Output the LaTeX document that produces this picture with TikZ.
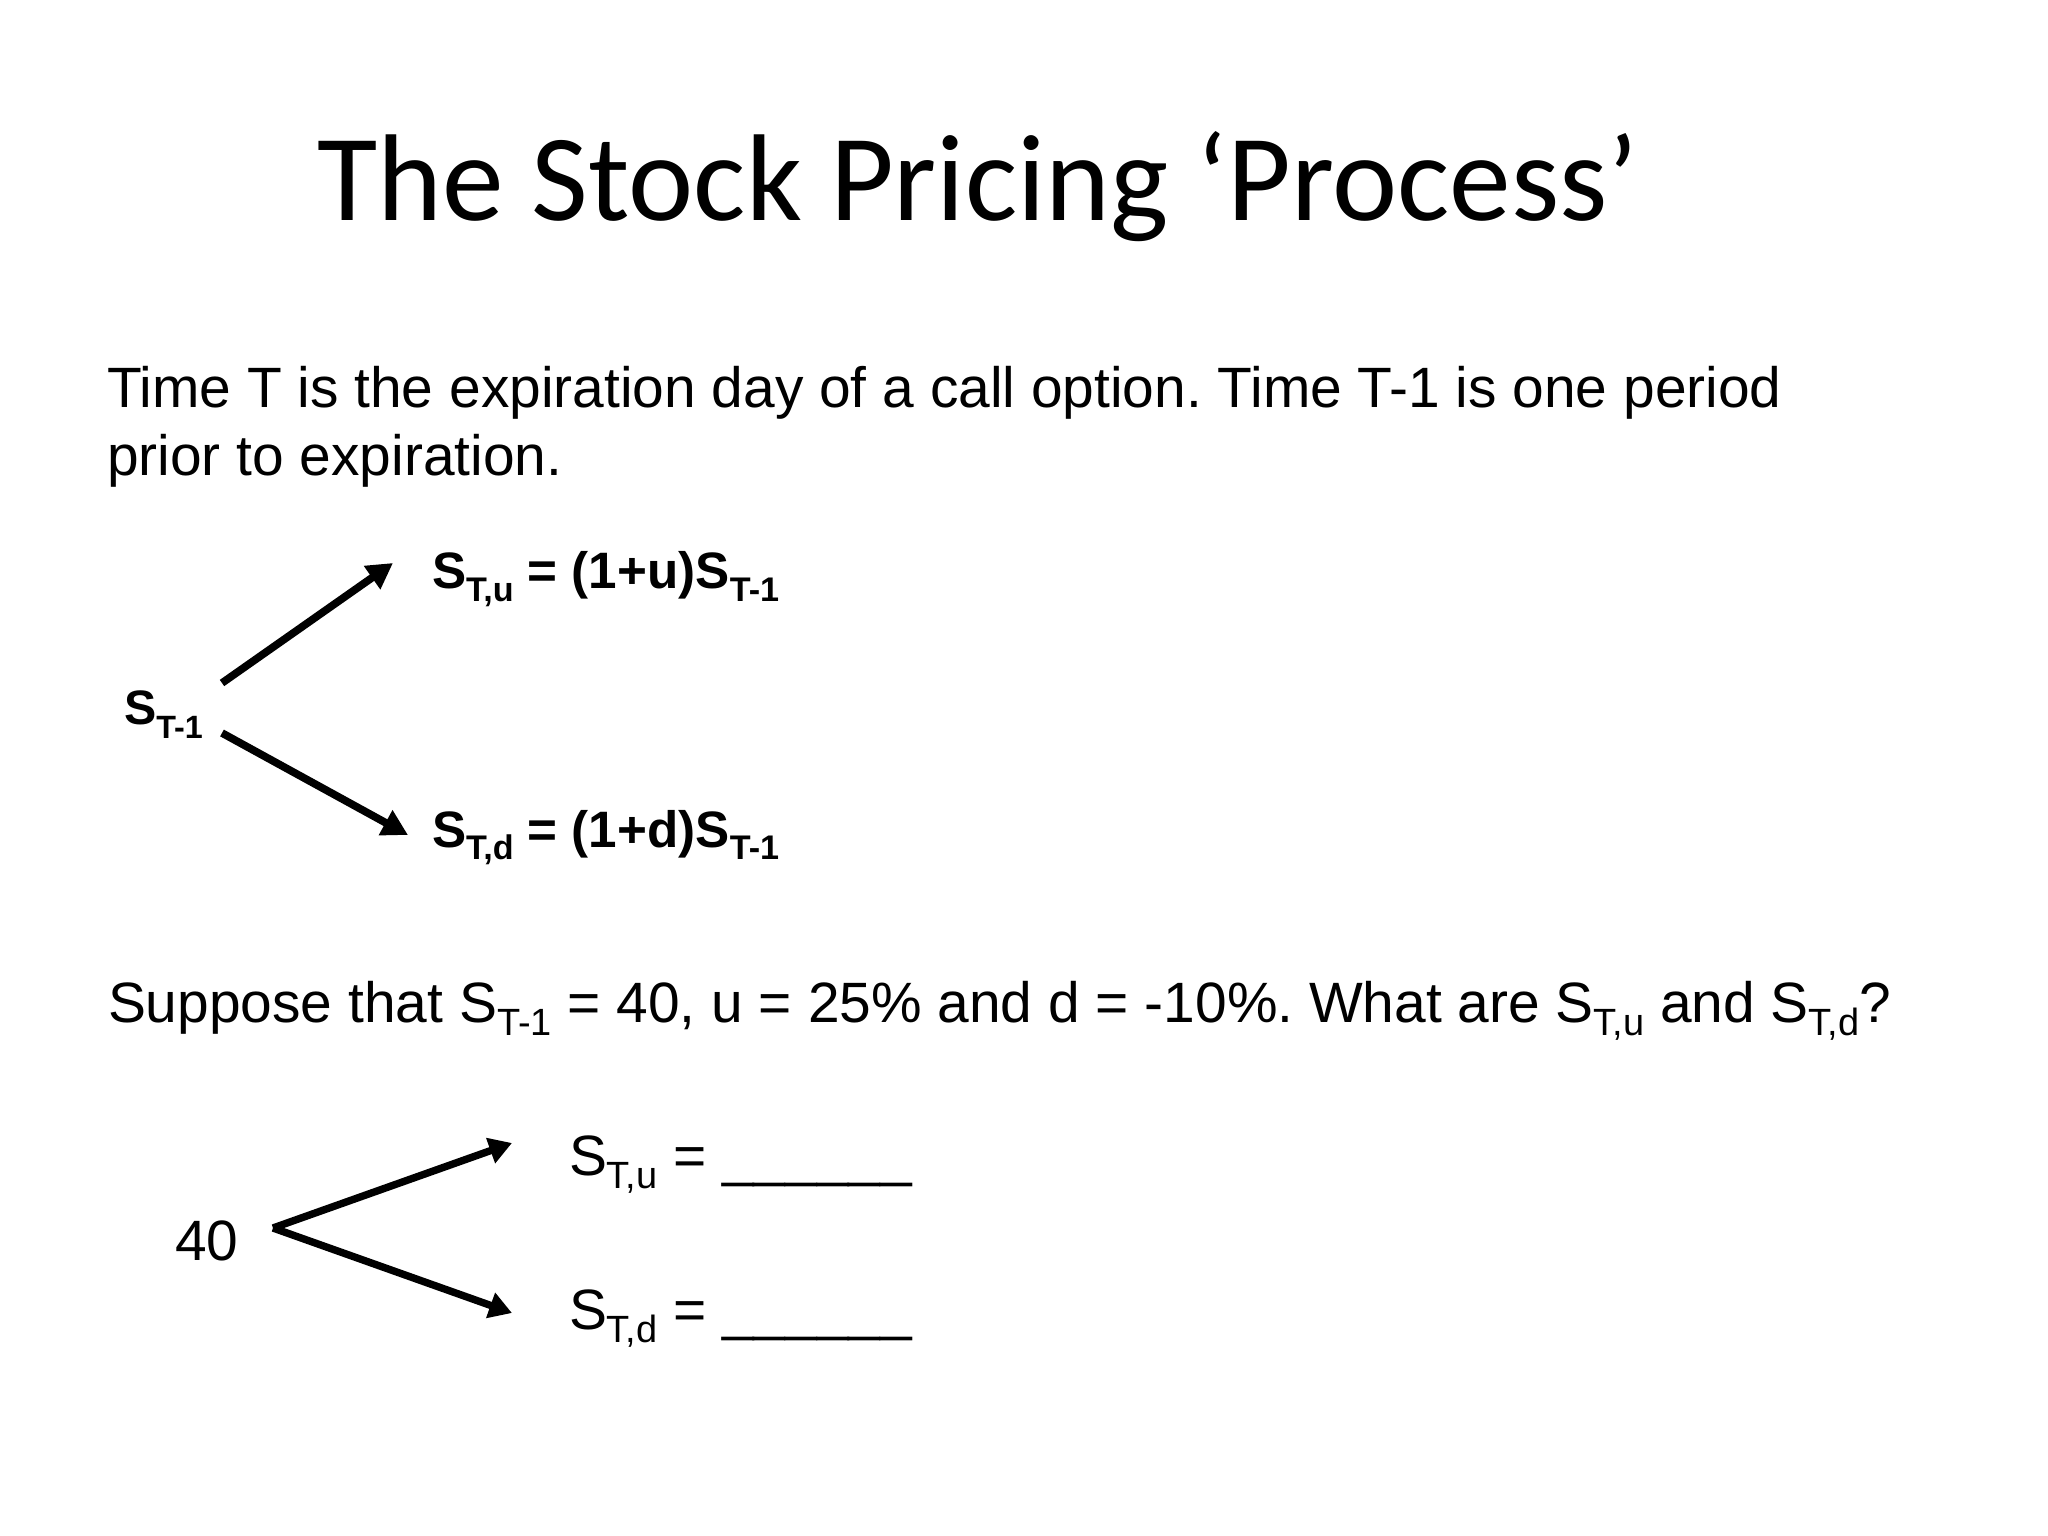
\documentclass[tikz,border=0pt]{standalone}
\usepackage{fontspec}
\setmainfont{Liberation Sans}
\newfontfamily\titlefont{Carlito}
\usetikzlibrary{arrows.meta}
\frenchspacing
\newcommand{\subs}[2][0.23em]{\raisebox{-#1}{\scalebox{0.667}{#2}}}
\tikzset{
  px/.style={x=0.3515625pt,y=-0.3515625pt},
  txt/.style={anchor=base west,inner sep=0pt,outer sep=0pt},
  body/.style={txt,font=\fontsize{20}{24}\selectfont},
  boldlbl/.style={txt,font=\fontsize{18}{21}\selectfont\bfseries},
  bigarrow/.style={line width=2.7pt,-{Triangle[length=9pt,width=9.5pt]}},
  smallarrow/.style={line width=2.6pt,-{Triangle[length=8pt,width=9pt]}}
}
\begin{document}
\begin{tikzpicture}[px]
\useasboundingbox[fill=white] (0,0) rectangle (2048,1536);
% title
\node[anchor=base,inner sep=0pt,font=\fontsize{43.4}{52}\selectfont\titlefont] (title) at (978,221) {The Stock Pricing ‘Process’};
% paragraph
\node[body] (p1) at (107,408) {Time T is the expiration day of a call option. Time T-1 is one period};
\node[body] (p2) at (107,476) {prior to expiration.};
% first tree
\node[txt,font=\fontsize{17}{20}\selectfont\bfseries] (st1) at (124,724) {S\subs[0.3em]{T-1}};
\node[boldlbl] (stu) at (432,589) {S\subs[0.25em]{T,u} = (1+u)S\subs[0.25em]{T-1}};
\node[boldlbl] (std) at (432,847) {S\subs[0.25em]{T,d} = (1+d)S\subs[0.25em]{T-1}};
\coordinate (a1s) at (222,683);
\coordinate (a1e) at (393,563);
\coordinate (a2s) at (222,733);
\coordinate (a2e) at (408,835);
\draw[bigarrow] (a1s) -- (a1e);
\draw[bigarrow] (a2s) -- (a2e);
% question
\node[body] (q) at (108,1022) {Suppose that S\subs{T-1} = 40, u = 25\% and d = -10\%. What are S\subs{T,u} and S\subs{T,d}?};
% second tree
\node[body] (forty) at (175,1260) {40};
\node[body] (au) at (569,1175) {S\subs{T,u} = \_\_\_\_\_\_};
\node[body] (ad) at (569,1329) {S\subs{T,d} = \_\_\_\_\_\_};
\coordinate (b0) at (273,1228);
\coordinate (b1) at (512,1143);
\coordinate (b2) at (512,1313);
\draw[smallarrow] (b0) -- (b1);
\draw[smallarrow] (b0) -- (b2);
\end{tikzpicture}
\end{document}
